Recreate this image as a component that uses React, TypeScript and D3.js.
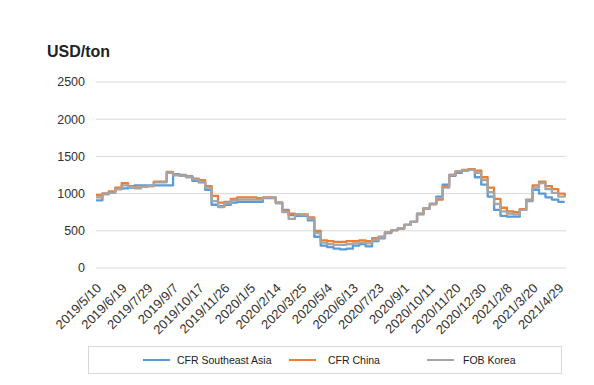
import React, { useEffect, useRef } from 'react';
import * as d3 from 'd3';

const dates = [
  '2019/5/10', '2019/5/20', '2019/5/30', '2019/6/9', '2019/6/19', '2019/6/29', '2019/7/9', '2019/7/19', '2019/7/29', '2019/8/8',
  '2019/8/18', '2019/8/28', '2019/9/7', '2019/9/17', '2019/9/27', '2019/10/7', '2019/10/17', '2019/10/27', '2019/11/6', '2019/11/16',
  '2019/11/26', '2019/12/6', '2019/12/16', '2019/12/26', '2020/1/5', '2020/1/15', '2020/1/25', '2020/2/4', '2020/2/14', '2020/2/24',
  '2020/3/5', '2020/3/15', '2020/3/25', '2020/4/4', '2020/4/14', '2020/4/24', '2020/5/4', '2020/5/14', '2020/5/24', '2020/6/3',
  '2020/6/13', '2020/6/23', '2020/7/3', '2020/7/13', '2020/7/23', '2020/8/2', '2020/8/12', '2020/8/22', '2020/9/1', '2020/9/11',
  '2020/9/21', '2020/10/1', '2020/10/11', '2020/10/21', '2020/10/31', '2020/11/10', '2020/11/20', '2020/11/30', '2020/12/10', '2020/12/20',
  '2020/12/30', '2021/1/9', '2021/1/19', '2021/1/29', '2021/2/8', '2021/2/18', '2021/2/28', '2021/3/10', '2021/3/20', '2021/3/30',
  '2021/4/9', '2021/4/19', '2021/4/29', '2021/5/9'
];

const seAsia = [
  910, 1000, 1020, 1060, 1070, 1080, 1110, 1110, 1110, 1110,
  1110, 1110, 1260, 1250, 1230, 1170, 1150, 1050, 850, 830,
  850, 880, 890, 890, 890, 890, 940, 940, 880, 780,
  710, 700, 700, 640, 420, 300, 280, 260, 250, 260,
  300, 320, 290, 360, 400, 470, 510, 530, 580, 620,
  720, 800, 860, 960, 1120, 1240, 1280, 1310, 1320, 1220,
  1120, 960, 780, 700, 690, 690, 780, 900, 1050, 1000,
  950, 920, 890, 890
];

const china = [
  980, 1000, 1030, 1080, 1140, 1100, 1080, 1090, 1100, 1160,
  1160, 1290, 1250, 1240, 1230, 1200, 1180, 1100, 970, 880,
  890, 930, 950, 950, 950, 940, 950, 950, 880, 770,
  730, 720, 720, 680, 500, 370, 360, 350, 350, 360,
  360, 370, 360, 400, 420, 480, 510, 530, 580, 620,
  730, 800, 860, 920, 1100, 1250, 1300, 1320, 1330, 1310,
  1220, 1080, 930, 810, 760, 750, 790, 920, 1110, 1160,
  1100, 1060, 1000, 960
];

const korea = [
  950, 990, 1010, 1060, 1110, 1090, 1070, 1090, 1100, 1150,
  1150, 1280, 1250, 1240, 1220, 1190, 1160, 1080, 900, 820,
  870, 910, 920, 920, 920, 920, 945, 945, 870, 750,
  660, 720, 710, 660, 470, 340, 320, 310, 310, 320,
  330, 340, 330, 380, 410, 480, 510, 530, 580, 620,
  730, 800, 860, 940, 1080, 1250, 1300, 1310, 1320, 1280,
  1180, 1020, 860, 760, 730, 720, 780, 910, 1080, 1140,
  1060, 1010, 960, 950
];

const tickLabels = [
  '2019/5/10', '2019/6/19', '2019/7/29', '2019/9/7', '2019/10/17', '2019/11/26', '2020/1/5',
  '2020/2/14', '2020/3/25', '2020/5/4', '2020/6/13', '2020/7/23', '2020/9/1', '2020/10/11',
  '2020/11/20', '2020/12/30', '2021/2/8', '2021/3/20', '2021/4/29'
];

const yTicks = [0, 500, 1000, 1500, 2000, 2500];

const seriesNames = ['CFR Southeast Asia', 'CFR China', 'FOB Korea'];
const seriesColors = ['#5b9bd5', '#ed7d31', '#a5a5a5'];

const FONT = '"Liberation Sans", Arial, sans-serif';

function Chart() {
  const ref = useRef<SVGSVGElement>(null);

  useEffect(() => {
    const svg = d3.select(ref.current);
    svg.selectAll('*').remove();

    const parse = d3.timeParse('%Y/%-m/%-d');
    const xDates = dates.map(d => parse(d) as Date);
    const left = 96, right = 566, top = 82, bottom = 268;

    const x = d3.scaleTime()
      .domain([xDates[0], d3.timeDay.offset(xDates[xDates.length - 1], 2)])
      .range([left, right]);
    const y = d3.scaleLinear().domain([0, 2500]).range([bottom, top]);

    svg.append('rect').attr('width', 594).attr('height', 385).attr('fill', '#fff');

    // title
    svg.append('text')
      .attr('x', 47).attr('y', 57)
      .attr('font-family', FONT).attr('font-size', 16).attr('font-weight', 'bold')
      .attr('fill', '#222')
      .text('USD/ton');

    // grid + y labels
    const yg = svg.append('g');
    yg.selectAll('line').data(yTicks).enter().append('line')
      .attr('x1', left).attr('x2', right)
      .attr('y1', d => y(d)).attr('y2', d => y(d))
      .attr('stroke', '#d9d9d9').attr('stroke-width', 1);
    yg.selectAll('text').data(yTicks).enter().append('text')
      .attr('x', 85).attr('y', d => y(d))
      .attr('dy', '0.35em')
      .attr('text-anchor', 'end')
      .attr('font-family', FONT).attr('font-size', 12.5)
      .attr('fill', '#333')
      .text(d => d);

    // x labels
    const xg = svg.append('g');
    xg.selectAll('text').data(tickLabels).enter().append('text')
      .attr('transform', d => `translate(${x(parse(d) as Date) + 6},${bottom + 21}) rotate(-45)`)
      .attr('text-anchor', 'end')
      .attr('font-family', FONT).attr('font-size', 13)
      .attr('fill', '#333')
      .text(d => d);

    // lines
    const all = [seAsia, china, korea];
    const line = d3.line<number>()
      .x((d, i) => x(xDates[i]))
      .y(d => y(d))
      .curve(d3.curveStepAfter);
    all.forEach((vals, i) => {
      svg.append('path')
        .attr('d', line(vals))
        .attr('fill', 'none')
        .attr('stroke', seriesColors[i])
        .attr('stroke-width', 2.3)
        .attr('stroke-linejoin', 'round');
    });

    // legend
    const lg = svg.append('g');
    lg.append('rect')
      .attr('x', 88.5).attr('y', 346.5).attr('width', 473).attr('height', 27)
      .attr('fill', '#fff').attr('stroke', '#d9d9d9');
    const legendLineX = [143, 289, 427];
    const legendTextX = [177, 328, 463];
    seriesNames.forEach((name, i) => {
      lg.append('line')
        .attr('x1', legendLineX[i]).attr('x2', legendLineX[i] + 27)
        .attr('y1', 360).attr('y2', 360)
        .attr('stroke', seriesColors[i]).attr('stroke-width', 2);
      lg.append('text')
        .attr('x', legendTextX[i]).attr('y', 360)
        .attr('dy', '0.35em')
        .attr('font-family', FONT).attr('font-size', 10.5)
        .attr('fill', '#222')
        .text(name);
    });
  }, []);

  return <svg ref={ref} width={594} height={385} style={{ display: 'block' }} />;
}

export default function App() {
  return (
    <div style={{ position: 'absolute', left: 0, top: 0 }}>
      <Chart />
    </div>
  );
}
